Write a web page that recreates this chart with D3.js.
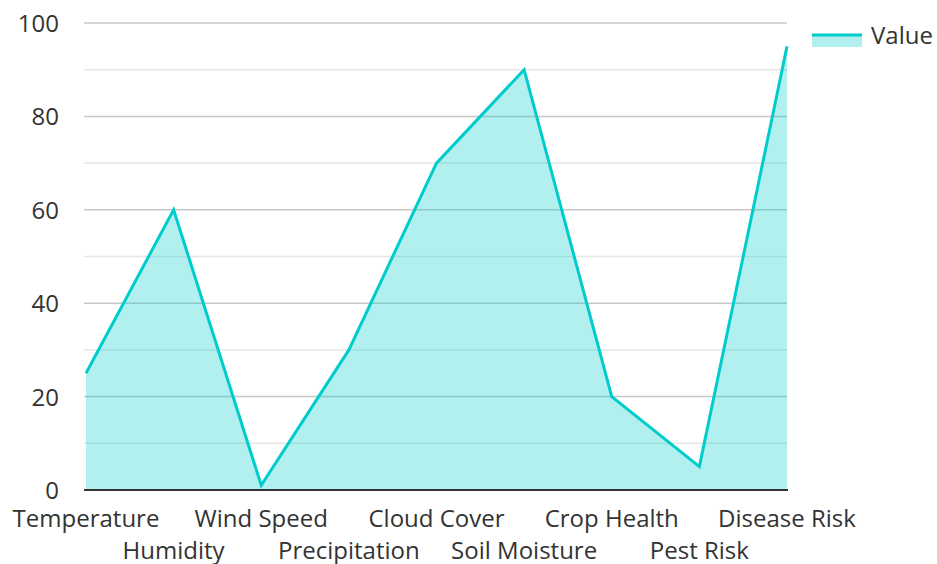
<!DOCTYPE html>
<html><head><meta charset="utf-8">
<script src="https://cdn.jsdelivr.net/npm/d3@7"></script>
<style>body{margin:0;background:#fff;} text{font-family:"Open Sans",sans-serif;fill:#333;}</style>
</head><body><svg id="c" width="937" height="564"></svg>
<script>
const categories = ["Temperature","Humidity","Wind Speed","Precipitation","Cloud Cover","Soil Moisture","Crop Health","Pest Risk","Disease Risk"];
const values = [25, 60, 1, 30, 70, 90, 20, 5, 95];
const majorTicks = [0, 20, 40, 60, 80, 100];
const minorTicks = [10, 30, 50, 70, 90];
const seriesName = "Value";

const svg = d3.select("#c");
const L = 86, R = 787, T = 23, B = 490;
const x = d3.scalePoint().domain(categories).range([L, R]);
const y = d3.scaleLinear().domain([0, 100]).range([B, T]);
const color = "#00cccc";

svg.append("g").selectAll("line").data(minorTicks).join("line")
  .attr("x1", 84).attr("x2", R).attr("y1", d => y(d)).attr("y2", d => y(d))
  .attr("stroke", "#e6e6e6").attr("stroke-width", 1.5);
svg.append("g").selectAll("line").data(majorTicks.filter(d => d > 0)).join("line")
  .attr("x1", 84).attr("x2", R).attr("y1", d => y(d)).attr("y2", d => y(d))
  .attr("stroke", "#c8c8c8").attr("stroke-width", 1.5);

const data = categories.map((c, i) => ({c, v: values[i]}));
svg.append("path").datum(data)
  .attr("d", d3.area().x(d => x(d.c)).y0(y(0)).y1(d => y(d.v)))
  .attr("fill", color).attr("fill-opacity", 0.3);
svg.append("path").datum(data)
  .attr("d", d3.line().x(d => x(d.c)).y(d => y(d.v)))
  .attr("fill", "none").attr("stroke", color).attr("stroke-width", 3);

svg.append("line").attr("x1", 84).attr("x2", R + 1).attr("y1", B).attr("y2", B)
  .attr("stroke", "#333").attr("stroke-width", 2);

svg.append("g").selectAll("text").data(majorTicks).join("text")
  .attr("x", 59).attr("y", d => y(d) + 9).attr("text-anchor", "end")
  .attr("font-size", 24).text(d => d);

svg.append("g").selectAll("text").data(categories).join("text")
  .attr("x", d => x(d)).attr("y", (d, i) => i % 2 === 0 ? 527 : 559)
  .attr("text-anchor", "middle").attr("font-size", 24).text(d => d);

const lg = svg.append("g");
lg.append("rect").attr("x", 812).attr("y", 35).attr("width", 50).attr("height", 12)
  .attr("fill", color).attr("fill-opacity", 0.3);
lg.append("line").attr("x1", 812).attr("x2", 862).attr("y1", 35).attr("y2", 35)
  .attr("stroke", color).attr("stroke-width", 3);
lg.append("text").attr("x", 871).attr("y", 44).attr("font-size", 24).text(seriesName);
</script></body></html>
